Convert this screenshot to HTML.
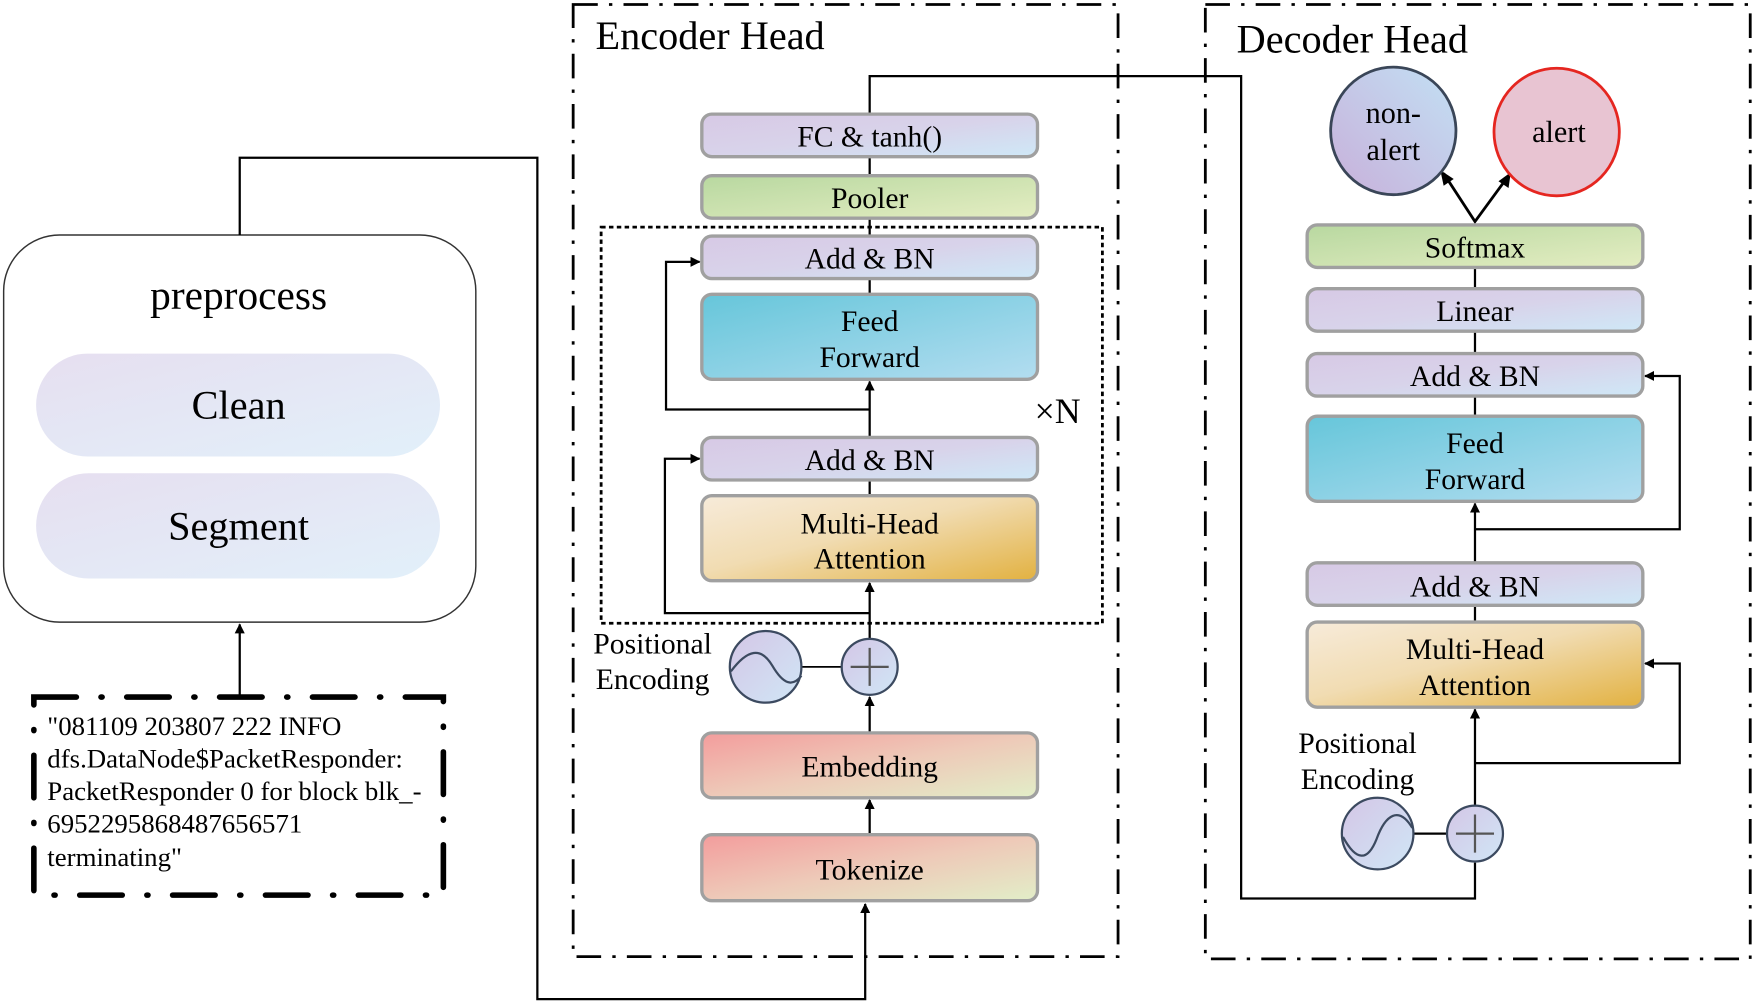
<!DOCTYPE html>
<html><head><meta charset="utf-8"><style>html,body{margin:0;padding:0;background:#fff}svg{display:block}</style></head>
<body>
<svg width="1755" height="1007" viewBox="0 0 1568 900" xmlns="http://www.w3.org/2000/svg" font-family="Liberation Serif, serif">
<defs>
<linearGradient id="pu" x1="0" y1="0" x2="1" y2="1"><stop offset="0" stop-color="#d7c9e5"/><stop offset="0.5" stop-color="#d8d3ea"/><stop offset="1" stop-color="#cfe8f7"/></linearGradient>
<linearGradient id="gr" x1="0" y1="0" x2="1" y2="1"><stop offset="0" stop-color="#b8d8a0"/><stop offset="1" stop-color="#e4edc2"/></linearGradient>
<linearGradient id="ff" x1="0" y1="0" x2="1" y2="1"><stop offset="0" stop-color="#66c6da"/><stop offset="1" stop-color="#b3ddf0"/></linearGradient>
<linearGradient id="mh" x1="0" y1="0" x2="1" y2="1"><stop offset="0" stop-color="#f7ebda"/><stop offset="0.45" stop-color="#f1dcb2"/><stop offset="1" stop-color="#e2b140"/></linearGradient>
<linearGradient id="em" x1="0" y1="0" x2="1" y2="1"><stop offset="0" stop-color="#f39c9c"/><stop offset="0.5" stop-color="#eec9b8"/><stop offset="1" stop-color="#e2eec8"/></linearGradient>
<linearGradient id="pl" x1="0" y1="0" x2="1" y2="1"><stop offset="0" stop-color="#e6dff0"/><stop offset="1" stop-color="#e2f0fa"/></linearGradient>
<linearGradient id="ci" x1="0" y1="0" x2="1" y2="1"><stop offset="0" stop-color="#d4c6e6"/><stop offset="1" stop-color="#d0e6f6"/></linearGradient>
<linearGradient id="na" x1="0" y1="1" x2="1" y2="0"><stop offset="0" stop-color="#c8b0da"/><stop offset="1" stop-color="#c2e0f4"/></linearGradient>
<marker id="ar" viewBox="0 0 10 10" refX="9" refY="5" markerWidth="9" markerHeight="9" markerUnits="userSpaceOnUse" orient="auto"><path d="M0,0 L10,5 L0,10 z" fill="#000"/></marker>
</defs>

<rect x="512" y="4" width="487" height="851" fill="none" stroke="#000" stroke-width="2.5" stroke-dasharray="22,10,3,10"/>
<rect x="1077" y="4" width="487" height="853" fill="none" stroke="#000" stroke-width="2.5" stroke-dasharray="22,10,3,10"/>
<text x="532" y="44" font-size="36">Encoder Head</text>
<text x="1105" y="47" font-size="36">Decoder Head</text>

<rect x="3" y="210" width="422" height="346" rx="50" fill="#fff" stroke="#333" stroke-width="1.3"/>
<text x="213" y="276" font-size="37" text-anchor="middle">preprocess</text>
<rect x="32" y="316" width="361" height="92" rx="46" fill="url(#pl)"/>
<text x="213" y="374" font-size="36" text-anchor="middle">Clean</text>
<rect x="32" y="423" width="361" height="94" rx="47" fill="url(#pl)"/>
<text x="213" y="482" font-size="36" text-anchor="middle">Segment</text>

<rect x="30" y="623" width="366" height="177" fill="none" stroke="#000" stroke-width="5" stroke-linecap="round" stroke-dasharray="38,22,1,22"/>
<g font-size="24">
<text x="42" y="657">"081109 203807 222 INFO</text>
<text x="42" y="686">dfs.DataNode$PacketResponder:</text>
<text x="42" y="715">PacketResponder 0 for block blk_-</text>
<text x="42" y="744">6952295868487656571</text>
<text x="42" y="774">terminating"</text>
</g>

<g fill="none" stroke="#000" stroke-width="2">
<line x1="214" y1="622" x2="214" y2="558" marker-end="url(#ar)"/>
<polyline points="214,210 214,141 480,141 480,893 773,893 773,808" marker-end="url(#ar)"/>
</g>

<rect x="537" y="203" width="448" height="354" fill="none" stroke="#000" stroke-width="2.5" stroke-dasharray="4,3"/>
<g fill="none" stroke="#000" stroke-width="2">
<polyline points="777,102 777,68 1109,68 1109,803 1318,803 1318,771"/>
<line x1="777" y1="140" x2="777" y2="157"/>
<line x1="777" y1="195" x2="777" y2="211"/>
<line x1="777" y1="249" x2="777" y2="263"/>
<line x1="777" y1="391" x2="777" y2="341" marker-end="url(#ar)"/>
<polyline points="777,366 595,366 595,234 625,234" marker-end="url(#ar)"/>
<line x1="777" y1="429" x2="777" y2="443"/>
<line x1="777" y1="571" x2="777" y2="521" marker-end="url(#ar)"/>
<polyline points="777,548 594,548 594,410 625,410" marker-end="url(#ar)"/>
<line x1="777" y1="655" x2="777" y2="623" marker-end="url(#ar)"/>
<line x1="777" y1="746" x2="777" y2="715" marker-end="url(#ar)"/>
<line x1="716" y1="596" x2="752" y2="596" stroke-width="1.5"/>
</g>
<g stroke="#a0a0a0" stroke-width="3">
<rect x="627" y="102" width="300" height="38" rx="9" fill="url(#pu)"/>
<rect x="627" y="157" width="300" height="38" rx="9" fill="url(#gr)"/>
<rect x="627" y="211" width="300" height="38" rx="9" fill="url(#pu)"/>
<rect x="627" y="263" width="300" height="76" rx="9" fill="url(#ff)"/>
<rect x="627" y="391" width="300" height="38" rx="9" fill="url(#pu)"/>
<rect x="627" y="443" width="300" height="76" rx="9" fill="url(#mh)"/>
<rect x="627" y="655" width="300" height="58" rx="9" fill="url(#em)"/>
<rect x="627" y="746" width="300" height="59" rx="9" fill="url(#em)"/>
</g>
<g font-size="26.5" text-anchor="middle">
<text x="777" y="131">FC &amp; tanh()</text>
<text x="777" y="186">Pooler</text>
<text x="777" y="240">Add &amp; BN</text>
<text x="777" y="296">Feed</text>
<text x="777" y="328">Forward</text>
<text x="777" y="420">Add &amp; BN</text>
<text x="777" y="477">Multi-Head</text>
<text x="777" y="508">Attention</text>
<text x="777" y="694">Embedding</text>
<text x="777" y="786">Tokenize</text>
</g>
<text x="945" y="378" font-size="32" text-anchor="middle">×N</text>
<g font-size="26.5" text-anchor="middle"><text x="583" y="584">Positional</text><text x="583" y="616">Encoding</text></g>
<circle cx="684" cy="596" r="32" fill="url(#ci)" stroke="#3c4a60" stroke-width="2"/>
<path d="M653,600 C668,580 680,578 690,595 C700,612 708,614 716,604" fill="none" stroke="#3c4a60" stroke-width="2"/>
<circle cx="777" cy="596" r="25" fill="url(#ci)" stroke="#3c4a60" stroke-width="2"/>
<path d="M760,596 H794 M777,579 V613" stroke="#555" stroke-width="2"/>

<g fill="none" stroke="#000" stroke-width="2">
<line x1="1318" y1="239" x2="1318" y2="258"/>
<line x1="1318" y1="296" x2="1318" y2="316"/>
<line x1="1318" y1="354" x2="1318" y2="372"/>
<line x1="1318" y1="503" x2="1318" y2="450" marker-end="url(#ar)"/>
<polyline points="1318,473 1501,473 1501,336 1470,336" marker-end="url(#ar)"/>
<line x1="1318" y1="541" x2="1318" y2="556"/>
<line x1="1318" y1="720" x2="1318" y2="634" marker-end="url(#ar)"/>
<polyline points="1318,682 1501,682 1501,593 1470,593" marker-end="url(#ar)"/>
<line x1="1263" y1="745" x2="1293" y2="745"/>
<polyline points="1290,155 1318,198 1348,157" stroke-width="2.5"/>
</g>
<path d="M1287,152 L1299,160 L1290,166 z" fill="#000"/>
<path d="M1350,154 L1348,168 L1339,162 z" fill="#000"/>
<g stroke="#a0a0a0" stroke-width="3">
<rect x="1168" y="201" width="300" height="38" rx="9" fill="url(#gr)"/>
<rect x="1168" y="258" width="300" height="38" rx="9" fill="url(#pu)"/>
<rect x="1168" y="316" width="300" height="38" rx="9" fill="url(#pu)"/>
<rect x="1168" y="372" width="300" height="76" rx="9" fill="url(#ff)"/>
<rect x="1168" y="503" width="300" height="38" rx="9" fill="url(#pu)"/>
<rect x="1168" y="556" width="300" height="76" rx="9" fill="url(#mh)"/>
</g>
<g font-size="26.5" text-anchor="middle">
<text x="1318" y="230">Softmax</text>
<text x="1318" y="287">Linear</text>
<text x="1318" y="345">Add &amp; BN</text>
<text x="1318" y="405">Feed</text>
<text x="1318" y="437">Forward</text>
<text x="1318" y="533">Add &amp; BN</text>
<text x="1318" y="589">Multi-Head</text>
<text x="1318" y="621">Attention</text>
</g>
<g font-size="26.5" text-anchor="middle"><text x="1213" y="673">Positional</text><text x="1213" y="705">Encoding</text></g>
<circle cx="1231" cy="745" r="32" fill="url(#ci)" stroke="#3c4a60" stroke-width="2"/>
<path d="M1200,748 C1212,770 1222,770 1230,750 C1238,728 1250,720 1262,740" fill="none" stroke="#3c4a60" stroke-width="2"/>
<circle cx="1318" cy="745" r="25" fill="url(#ci)" stroke="#3c4a60" stroke-width="2"/>
<path d="M1301,745 H1335 M1318,728 V762" stroke="#555" stroke-width="2"/>

<ellipse cx="1245" cy="117" rx="56" ry="57" fill="url(#na)" stroke="#3a4658" stroke-width="2.5"/>
<text x="1245" y="110" font-size="27" text-anchor="middle">non-</text>
<text x="1245" y="143" font-size="27" text-anchor="middle">alert</text>
<ellipse cx="1391" cy="118" rx="56" ry="57" fill="#e8c4d2" stroke="#e52620" stroke-width="2.5"/>
<text x="1393" y="127" font-size="27" text-anchor="middle">alert</text>
</svg>
</body></html>
